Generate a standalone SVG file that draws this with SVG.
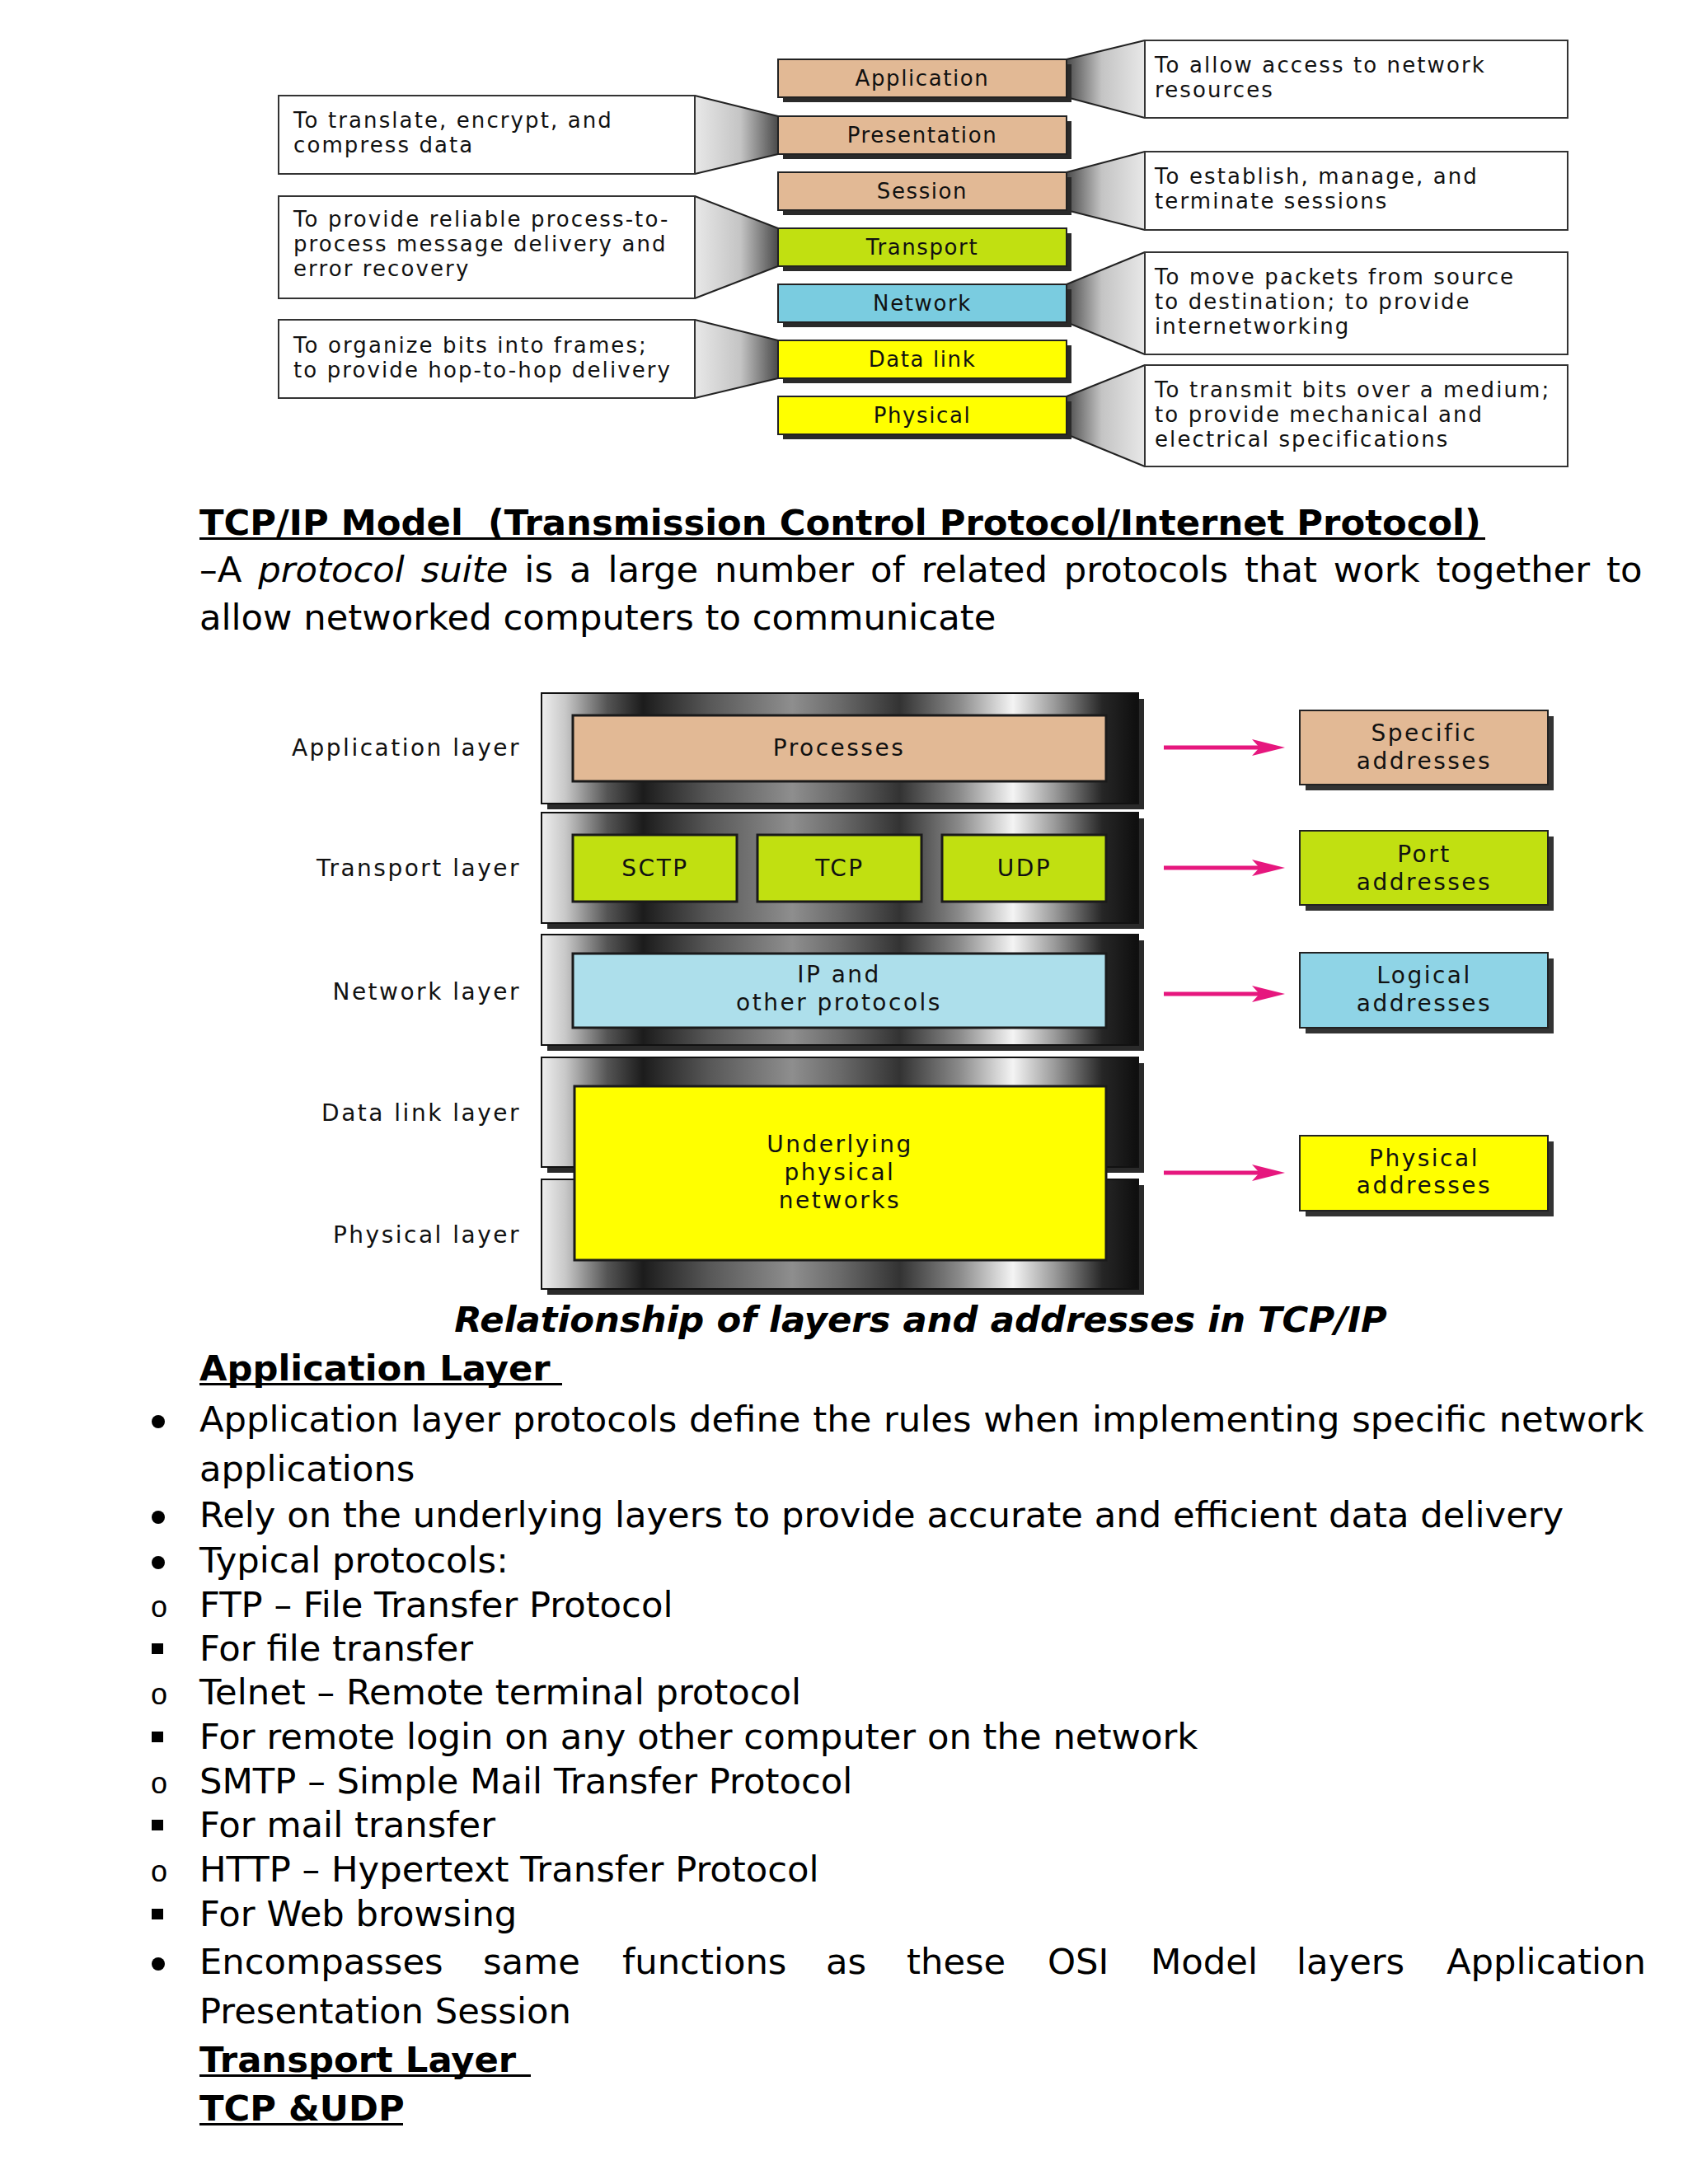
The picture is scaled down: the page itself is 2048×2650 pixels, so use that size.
<svg xmlns="http://www.w3.org/2000/svg" width="2048" height="2650" viewBox="0 0 2048 2650">
<defs>
<style>
.dt{font-family:"DejaVu Sans",Verdana,sans-serif;font-size:26px;letter-spacing:2.1px;fill:#111}
.lt{font-family:"DejaVu Sans",Verdana,sans-serif;font-size:26px;letter-spacing:1.6px;fill:#111;text-anchor:middle}
.d2{font-family:"DejaVu Sans",Verdana,sans-serif;font-size:28px;letter-spacing:2.5px;fill:#111}
.c2{text-anchor:middle}
.r2{text-anchor:end}
.body{font-family:"DejaVu Sans",Verdana,sans-serif;font-size:43.3px;fill:#000}
.bold{font-weight:bold}
.mono{font-family:"Liberation Mono","Courier New",monospace;font-size:36px;fill:#000;text-anchor:middle}
.box{stroke:#222;stroke-width:2}
.desc{fill:#fff;stroke:#333;stroke-width:2}
.shadow{fill:#2a2a2a}
.edge{stroke:#222;stroke-width:2;fill:none}
.tan{fill:#E2B995}
.lime{fill:#C1E011}
.blue{fill:#7ACCE0}
.yel{fill:#FFFF00}
.frame{fill:url(#metal);stroke:#111;stroke-width:2}
.inner{stroke:#1a1a1a;stroke-width:3}
.arr{stroke:#E6177E;stroke-width:5;fill:none;marker-end:url(#ah)}
.ul{fill:#000}
.dot{fill:#000}
</style>
<linearGradient id="fr" x1="0" y1="0" x2="1" y2="0">
<stop offset="0" stop-color="#4a4a4a"/><stop offset="0.45" stop-color="#c4c4c4"/><stop offset="1" stop-color="#e8e8e8"/>
</linearGradient>
<linearGradient id="fl" x1="1" y1="0" x2="0" y2="0">
<stop offset="0" stop-color="#4a4a4a"/><stop offset="0.45" stop-color="#c4c4c4"/><stop offset="1" stop-color="#e8e8e8"/>
</linearGradient>
<linearGradient id="metal" x1="0" y1="0" x2="1" y2="0">
<stop offset="0" stop-color="#eeeeee"/><stop offset="0.04" stop-color="#c8c8c8"/><stop offset="0.11" stop-color="#555"/><stop offset="0.17" stop-color="#1c1c1c"/><stop offset="0.28" stop-color="#575757"/><stop offset="0.42" stop-color="#8e8e8e"/><stop offset="0.5" stop-color="#6a6a6a"/><stop offset="0.6" stop-color="#333"/><stop offset="0.7" stop-color="#8a8a8a"/><stop offset="0.79" stop-color="#f4f4f4"/><stop offset="0.86" stop-color="#9a9a9a"/><stop offset="0.94" stop-color="#262626"/><stop offset="1" stop-color="#0e0e0e"/>
</linearGradient>
<marker id="ah" viewBox="0 0 40 20" refX="26" refY="10" markerWidth="40" markerHeight="20" markerUnits="userSpaceOnUse" orient="auto">
<path d="M0,0 L40,10 L0,20 L9,10 z" fill="#E6177E"/>
</marker>
</defs>
<rect width="2048" height="2650" fill="#fff"/>

<!-- ===== OSI diagram ===== -->
<g id="connectors-osi">
<polygon points="1294,72 1389,49 1389,143 1294,118" fill="url(#fr)"/>
<polyline class="edge" points="1294,72 1389,49"/><polyline class="edge" points="1294,118 1389,143"/>
<polygon points="1294,209 1389,184 1389,279 1294,255" fill="url(#fr)"/>
<polyline class="edge" points="1294,209 1389,184"/><polyline class="edge" points="1294,255 1389,279"/>
<polygon points="1294,345 1389,306 1389,430 1294,391" fill="url(#fr)"/>
<polyline class="edge" points="1294,345 1389,306"/><polyline class="edge" points="1294,391 1389,430"/>
<polygon points="1294,481 1389,443 1389,566 1294,527" fill="url(#fr)"/>
<polyline class="edge" points="1294,481 1389,443"/><polyline class="edge" points="1294,527 1389,566"/>
<polygon points="843,116 944,141 944,187 843,211" fill="url(#fl)"/>
<polyline class="edge" points="843,116 944,141"/><polyline class="edge" points="843,211 944,187"/>
<polygon points="843,238 944,277 944,323 843,362" fill="url(#fl)"/>
<polyline class="edge" points="843,238 944,277"/><polyline class="edge" points="843,362 944,323"/>
<polygon points="843,388 944,413 944,459 843,483" fill="url(#fl)"/>
<polyline class="edge" points="843,388 944,413"/><polyline class="edge" points="843,483 944,459"/>
</g>

<g id="osi-application"><rect class="shadow" x="950" y="78" width="350" height="46"/><rect class="box tan" x="944" y="72" width="350" height="46"/><text class="lt" x="1119" y="104">Application</text></g>
<g id="osi-presentation"><rect class="shadow" x="950" y="147" width="350" height="46"/><rect class="box tan" x="944" y="141" width="350" height="46"/><text class="lt" x="1119" y="173">Presentation</text></g>
<g id="osi-session"><rect class="shadow" x="950" y="215" width="350" height="46"/><rect class="box tan" x="944" y="209" width="350" height="46"/><text class="lt" x="1119" y="241">Session</text></g>
<g id="osi-transport"><rect class="shadow" x="950" y="283" width="350" height="46"/><rect class="box lime" x="944" y="277" width="350" height="46"/><text class="lt" x="1119" y="309">Transport</text></g>
<g id="osi-network"><rect class="shadow" x="950" y="351" width="350" height="46"/><rect class="box blue" x="944" y="345" width="350" height="46"/><text class="lt" x="1119" y="377">Network</text></g>
<g id="osi-datalink"><rect class="shadow" x="950" y="419" width="350" height="46"/><rect class="box yel" x="944" y="413" width="350" height="46"/><text class="lt" x="1119" y="445">Data link</text></g>
<g id="osi-physical"><rect class="shadow" x="950" y="487" width="350" height="46"/><rect class="box yel" x="944" y="481" width="350" height="46"/><text class="lt" x="1119" y="513">Physical</text></g>

<g id="desc-application"><rect class="desc" x="1389" y="49" width="513" height="94"/><text class="dt" x="1401" y="88">To allow access to network</text><text class="dt" x="1401" y="118">resources</text></g>
<g id="desc-session"><rect class="desc" x="1389" y="184" width="513" height="95"/><text class="dt" x="1401" y="223">To establish, manage, and</text><text class="dt" x="1401" y="253">terminate sessions</text></g>
<g id="desc-network"><rect class="desc" x="1389" y="306" width="513" height="124"/><text class="dt" x="1401" y="345">To move packets from source</text><text class="dt" x="1401" y="375">to destination; to provide</text><text class="dt" x="1401" y="405">internetworking</text></g>
<g id="desc-physical"><rect class="desc" x="1389" y="443" width="513" height="123"/><text class="dt" x="1401" y="482">To transmit bits over a medium;</text><text class="dt" x="1401" y="512">to provide mechanical and</text><text class="dt" x="1401" y="542">electrical specifications</text></g>
<g id="desc-presentation"><rect class="desc" x="338" y="116" width="505" height="95"/><text class="dt" x="356" y="155">To translate, encrypt, and</text><text class="dt" x="356" y="185">compress data</text></g>
<g id="desc-transport"><rect class="desc" x="338" y="238" width="505" height="124"/><text class="dt" x="356" y="275">To provide reliable process-to-</text><text class="dt" x="356" y="305">process message delivery and</text><text class="dt" x="356" y="335">error recovery</text></g>
<g id="desc-datalink"><rect class="desc" x="338" y="388" width="505" height="95"/><text class="dt" x="356" y="428">To organize bits into frames;</text><text class="dt" x="356" y="458">to provide hop-to-hop delivery</text></g>

<!-- ===== Heading and intro ===== -->
<g id="intro">
<text class="body bold" x="242" y="649" xml:space="preserve">TCP/IP Model  (Transmission Control Protocol/Internet Protocol)</text>
<rect class="ul" x="242" y="652" width="1560" height="3"/>
<text class="body" x="242" y="706" word-spacing="6.2">–A <tspan font-style="italic">protocol suite</tspan> is a large number of related protocols that work together to</text>
<text class="body" x="242" y="764">allow networked computers to communicate</text>
</g>

<!-- ===== TCP/IP diagram ===== -->
<g id="tcpip-application">
<rect class="shadow" x="664" y="848" width="724" height="134"/>
<rect class="frame" x="657" y="841" width="724" height="134"/>
<rect class="inner tan" x="695" y="868" width="647" height="80"/>
<text class="d2 c2" x="1018" y="917">Processes</text>
<text class="d2 r2" x="632" y="917">Application layer</text>
</g>
<g id="tcpip-transport">
<rect class="shadow" x="664" y="993" width="724" height="134"/>
<rect class="frame" x="657" y="986" width="724" height="134"/>
<rect class="inner lime" x="695" y="1013" width="199" height="81"/>
<rect class="inner lime" x="919" y="1013" width="199" height="81"/>
<rect class="inner lime" x="1143" y="1013" width="199" height="81"/>
<text class="d2 c2" x="795" y="1063">SCTP</text>
<text class="d2 c2" x="1019" y="1063">TCP</text>
<text class="d2 c2" x="1243" y="1063">UDP</text>
<text class="d2 r2" x="632" y="1063">Transport layer</text>
</g>
<g id="tcpip-network">
<rect class="shadow" x="664" y="1141" width="724" height="134"/>
<rect class="frame" x="657" y="1134" width="724" height="134"/>
<rect class="inner" fill="#ADDFEB" x="695" y="1157" width="647" height="90"/>
<text class="d2 c2" x="1018" y="1192">IP and</text>
<text class="d2 c2" x="1018" y="1226">other protocols</text>
<text class="d2 r2" x="632" y="1213">Network layer</text>
</g>
<g id="tcpip-lower">
<rect class="shadow" x="664" y="1290" width="724" height="133"/>
<rect class="shadow" x="664" y="1438" width="724" height="133"/>
<rect class="frame" x="657" y="1283" width="724" height="133"/>
<rect class="frame" x="657" y="1431" width="724" height="133"/>
<rect class="inner yel" x="697" y="1318" width="645" height="211"/>
<text class="d2 c2" x="1019" y="1398">Underlying</text>
<text class="d2 c2" x="1019" y="1432">physical</text>
<text class="d2 c2" x="1019" y="1466">networks</text>
<text class="d2 r2" x="632" y="1360">Data link layer</text>
<text class="d2 r2" x="632" y="1508">Physical layer</text>
</g>

<g id="connectors-tcpip">
<line class="arr" x1="1412" y1="907" x2="1545" y2="907"/>
<line class="arr" x1="1412" y1="1053" x2="1545" y2="1053"/>
<line class="arr" x1="1412" y1="1206" x2="1545" y2="1206"/>
<line class="arr" x1="1412" y1="1423" x2="1545" y2="1423"/>
</g>

<g id="addr-specific"><rect fill="#333" x="1584" y="869" width="301" height="90"/><rect class="box tan" x="1577" y="862" width="301" height="90"/><text class="d2 c2" x="1728" y="899">Specific</text><text class="d2 c2" x="1728" y="933">addresses</text></g>
<g id="addr-port"><rect fill="#333" x="1584" y="1015" width="301" height="90"/><rect class="box lime" x="1577" y="1008" width="301" height="90"/><text class="d2 c2" x="1728" y="1046">Port</text><text class="d2 c2" x="1728" y="1080">addresses</text></g>
<g id="addr-logical"><rect fill="#333" x="1584" y="1163" width="301" height="91"/><rect class="box" fill="#8FD4E6" x="1577" y="1156" width="301" height="91"/><text class="d2 c2" x="1728" y="1193">Logical</text><text class="d2 c2" x="1728" y="1227">addresses</text></g>
<g id="addr-physical"><rect fill="#333" x="1584" y="1385" width="301" height="91"/><rect class="box yel" x="1577" y="1378" width="301" height="91"/><text class="d2 c2" x="1728" y="1415">Physical</text><text class="d2 c2" x="1728" y="1448">addresses</text></g>

<!-- ===== Caption and text ===== -->
<g id="text-body">
<text class="body bold" font-style="italic" x="1117" y="1616" text-anchor="middle">Relationship of layers and addresses in TCP/IP</text>
<text class="body bold" x="242" y="1675">Application Layer</text>
<rect class="ul" x="242" y="1678" width="440" height="3"/>

<circle class="dot" cx="192" cy="1725" r="8"/>
<text class="body" x="242" y="1737" word-spacing="1">Application layer protocols define the rules when implementing specific network</text>
<text class="body" x="242" y="1797">applications</text>
<circle class="dot" cx="192" cy="1841" r="8"/>
<text class="body" x="242" y="1853">Rely on the underlying layers to provide accurate and efficient data delivery</text>
<circle class="dot" cx="192" cy="1896" r="8"/>
<text class="body" x="242" y="1908">Typical protocols:</text>

<text class="mono" x="193" y="1962">o</text>
<text class="body" x="242" y="1962">FTP – File Transfer Protocol</text>
<rect class="dot" x="184" y="1994" width="14" height="13"/>
<text class="body" x="242" y="2015">For file transfer</text>
<text class="mono" x="193" y="2068">o</text>
<text class="body" x="242" y="2068">Telnet – Remote terminal protocol</text>
<rect class="dot" x="184" y="2101" width="14" height="13"/>
<text class="body" x="242" y="2122">For remote login on any other computer on the network</text>
<text class="mono" x="193" y="2176">o</text>
<text class="body" x="242" y="2176">SMTP – Simple Mail Transfer Protocol</text>
<rect class="dot" x="184" y="2208" width="14" height="13"/>
<text class="body" x="242" y="2229">For mail transfer</text>
<text class="mono" x="193" y="2283">o</text>
<text class="body" x="242" y="2283">HTTP – Hypertext Transfer Protocol</text>
<rect class="dot" x="184" y="2316" width="14" height="13"/>
<text class="body" x="242" y="2337">For Web browsing</text>

<circle class="dot" cx="192" cy="2383" r="8"/>
<text class="body" y="2395"><tspan x="242">Encompasses</tspan><tspan x="586">same</tspan><tspan x="755">functions</tspan><tspan x="1002">as</tspan><tspan x="1100">these</tspan><tspan x="1271">OSI</tspan><tspan x="1396">Model</tspan><tspan x="1573">layers</tspan><tspan x="1755">Application</tspan></text>
<text class="body" x="242" y="2455">Presentation Session</text>

<text class="body bold" x="242" y="2514">Transport Layer</text>
<rect class="ul" x="242" y="2517" width="402" height="3"/>
<text class="body bold" x="242" y="2573">TCP &amp;UDP</text>
<rect class="ul" x="242" y="2576" width="247" height="3"/>
</g>
</svg>
